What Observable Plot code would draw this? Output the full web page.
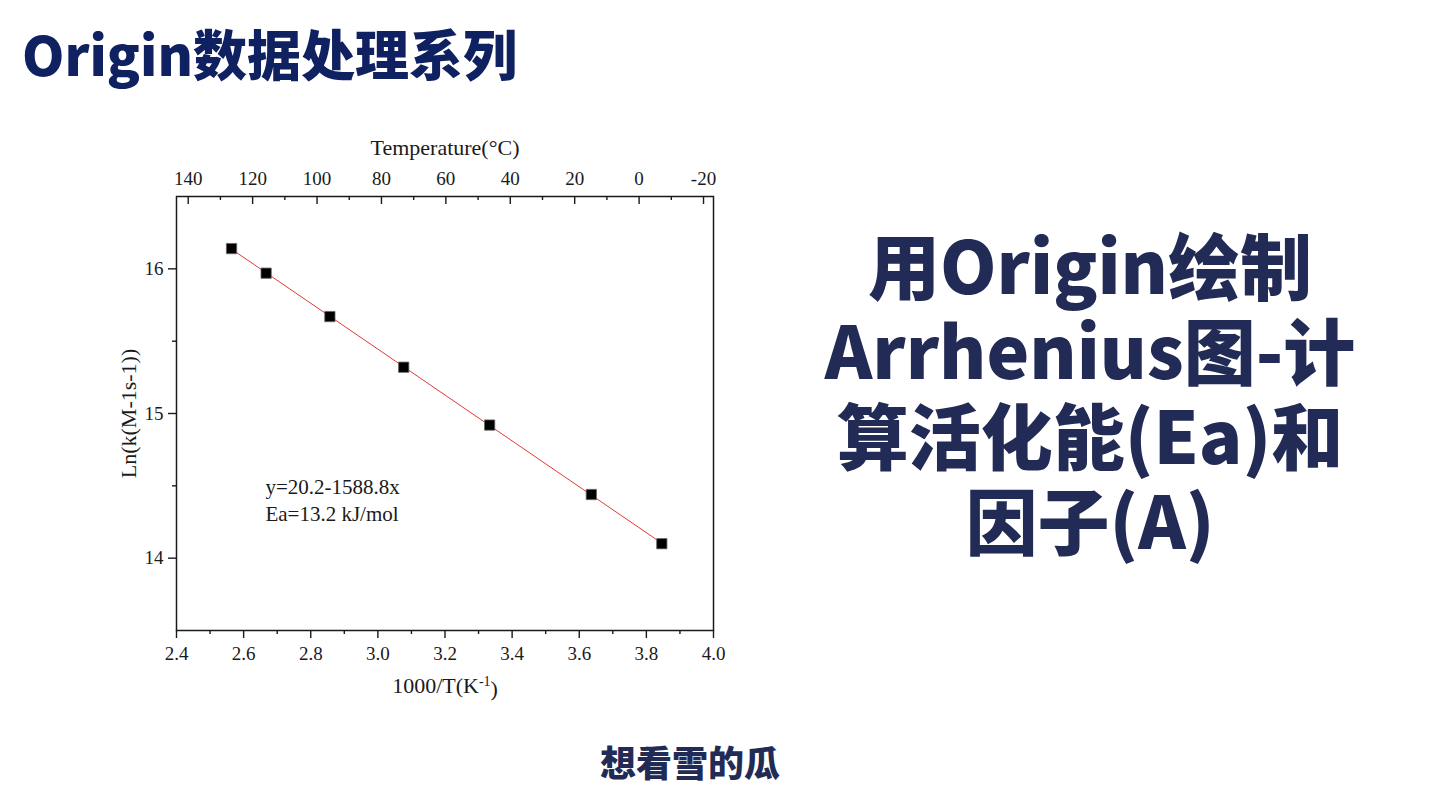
<!DOCTYPE html>
<html><head><meta charset="utf-8">
<script src="https://cdn.jsdelivr.net/npm/d3@7"></script>
<script src="https://cdn.jsdelivr.net/npm/@observablehq/plot@0.6"></script>
<style>
html,body{margin:0;padding:0;background:#fff;}
body{width:1440px;height:812px;overflow:hidden;position:relative;font-family:"Noto Sans CJK SC","Noto Sans",sans-serif;}
#title{position:absolute;left:22px;top:26px;font-size:54px;line-height:54px;font-weight:900;color:#0f2160;white-space:nowrap;}
#chart{position:absolute;left:0;top:100px;}
#side{position:absolute;left:790px;width:600px;top:220px;text-align:center;font-size:72px;font-weight:900;color:#222b55;}
#side div{height:85px;line-height:85px;white-space:nowrap;}
#footer{position:absolute;left:540px;width:300px;top:743px;text-align:center;font-size:36px;line-height:36px;font-weight:900;color:#222b55;}
</style></head>
<body>
<div id="title">Origin数据处理系列</div>
<div id="chart"></div>
<div id="side"><div>用Origin绘制</div><div>Arrhenius图-计</div><div>算活化能(Ea)和</div><div>因子(A)</div></div>
<div id="footer">想看雪的瓜</div>
<script>
// 1000/T values (K^-1) and ln k values
const invT = [2.564, 2.667, 2.857, 3.077, 3.333, 3.636, 3.846];
const lnK = [16.14, 15.97, 15.67, 15.32, 14.92, 14.44, 14.10];
// axis ticks
const xTicks = [2.4, 2.6, 2.8, 3.0, 3.2, 3.4, 3.6, 3.8, 4.0];
const xMinor = [2.5, 2.7, 2.9, 3.1, 3.3, 3.5, 3.7, 3.9];
const yTicks = [14, 15, 16];
const yMinor = [14.5, 15.5];
const tempTicks = [140, 120, 100, 80, 60, 40, 20, 0, -20];
const tempMinor = [130, 110, 90, 70, 50, 30, 10, -10];
// texts
const xTitle = "1000/T(K-1)";
const yTitle = "Ln(k(M-1s-1))";
const topTitle = "Temperature(°C)";
const fitNote = ["y=20.2-1588.8x", "Ea=13.2 kJ/mol"];

const data = invT.map((x, i) => ({x, y: lnK[i]}));
// top (linked) temperature axis: linear mapping onto the 1000/T scale
const tempToX = t => 2.4349 + (140 - t) * 0.009596;

const W = 760, H = 620, mT = 96, mB = 90, mL = 176, mR = 47;
const frameH = H - mT - mB;
const ink = "#1a1a1a";

const plot = Plot.plot({
  width: W, height: H,
  marginTop: mT, marginBottom: mB, marginLeft: mL, marginRight: mR,
  style: {fontFamily: "'Liberation Serif', 'Times New Roman', serif", fontSize: "19px", color: ink, background: "transparent", overflow: "visible"},
  x: {domain: [2.4, 4.0]},
  y: {domain: [13.5, 16.5]},
  marks: [
    Plot.frame({stroke: ink, strokeWidth: 1.5}),
    // bottom axis
    Plot.axisX({ticks: xTicks, tickSize: 8, tickPadding: 8, tickFormat: d3.format(".1f"), label: null, stroke: ink, strokeWidth: 1.4, fontSize: 19}),
    Plot.axisX({ticks: xMinor, tickSize: 4, text: null, label: null, stroke: ink, strokeWidth: 1.4}),
    // left axis
    Plot.axisY({ticks: yTicks, tickSize: 8, tickPadding: 5, tickFormat: d => String(d), label: null, stroke: ink, strokeWidth: 1.4, fontSize: 19}),
    Plot.axisY({ticks: yMinor, tickSize: 4, text: null, label: null, stroke: ink, strokeWidth: 1.4}),
    // top temperature axis (ticks pointing inward)
    Plot.tickX(tempTicks, {x: tempToX, insetBottom: frameH - 8, stroke: ink, strokeWidth: 1.4}),
    Plot.tickX(tempMinor, {x: tempToX, insetBottom: frameH - 4, stroke: ink, strokeWidth: 1.4}),
    Plot.text(tempTicks, {x: tempToX, text: d => String(d), frameAnchor: "top", dy: -25, fontSize: 19}),
    // titles
    Plot.text([topTitle], {frameAnchor: "top", dy: -57, fontSize: 22}),
    Plot.text([xTitle], {frameAnchor: "bottom", dy: 62, fontSize: 22}),
    Plot.text([yTitle], {frameAnchor: "left", textAnchor: "middle", dx: -48, rotate: -90, fontSize: 22}),
    // fit line and points
    Plot.linearRegressionY(data, {x: "x", y: "y", stroke: "#e53a35", strokeWidth: 1, ci: 0}),
    Plot.dot(data, {x: "x", y: "y", symbol: "square", r: 5.8, fill: "#000", stroke: "#666", strokeWidth: 0.8}),
    // annotation
    Plot.text([fitNote.join("\n")], {x: 2.665, y: 14.407, textAnchor: "start", lineAnchor: "middle", lineHeight: 1.27, fontSize: 21})
  ]
});

// superscript in the bottom axis title
d3.select(plot).selectAll("text").each(function() {
  if (this.textContent === xTitle) {
    const t = d3.select(this);
    t.text(null);
    t.append("tspan").text("1000/T(K");
    t.append("tspan").attr("dy", "-0.45em").attr("font-size", "14px").text("-1");
    t.append("tspan").attr("dy", "0.45em").text(")");
  }
});

document.getElementById("chart").appendChild(plot);
</script>
</body></html>
